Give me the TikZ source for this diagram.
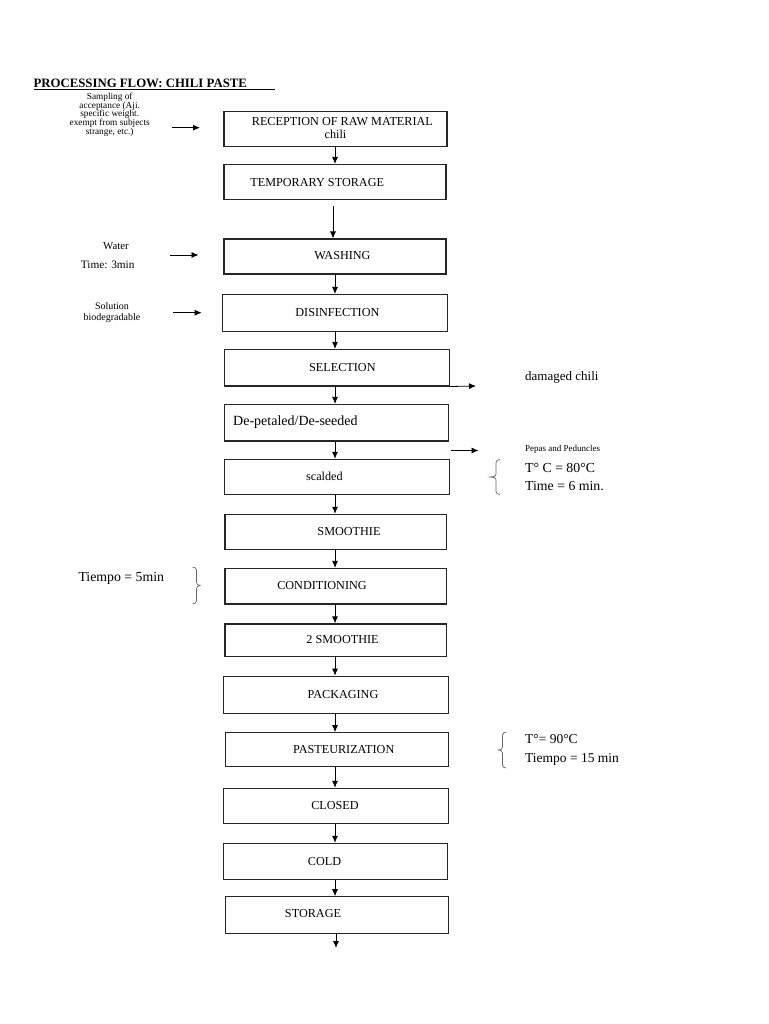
\documentclass[tikz,border=0pt]{standalone}
\usepackage{fontspec}
\setmainfont{Liberation Serif}
\usetikzlibrary{arrows.meta}
\begin{document}
\begin{tikzpicture}[x=1pt,y=-1pt,
  box/.style={draw=black!85, line width=1.1pt, inner sep=0pt},
  lbl/.style={inner sep=0pt, font=\fontsize{12.2}{14}\selectfont},
  arr/.style={line width=0.8pt, -{Latex[length=7pt,width=6pt]}},
  brc/.style={draw=black!60, line width=0.7pt},
  note/.style={inner sep=0pt, anchor=west, align=left}]
\useasboundingbox (0,0) rectangle (768,1024);
\fill[white] (0,0) rectangle (768,1024);

% title
\node[inner sep=0pt, anchor=base west, font=\bfseries\fontsize{12.8}{14}\selectfont] (title) at (33.3,88)
  {\underline{PROCESSING FLOW: CHILI PASTE\hspace*{28pt}}};

% boxes
\node[box, minimum width=223pt, minimum height=35pt] (b1) at (335.5,129) {};
\node[box, minimum width=222pt, minimum height=35pt] (b2) at (335,182) {};
\node[box, minimum width=222pt, minimum height=35pt] (b3) at (335,256.5) {};
\node[box, minimum width=224.5pt, minimum height=37pt] (b4) at (335,313) {};
\node[box, minimum width=224.5pt, minimum height=36.5pt] (b5) at (337,367.7) {};
\node[box, minimum width=224.3pt, minimum height=36.5pt] (b6) at (336.2,422.7) {};
\node[box, minimum width=224.5pt, minimum height=35pt] (b7) at (337,476.8) {};
\node[box, minimum width=221.7pt, minimum height=35pt] (b8) at (335.8,531.8) {};
\node[box, minimum width=221.7pt, minimum height=35.5pt] (b9) at (335.8,586.2) {};
\node[box, minimum width=221.7pt, minimum height=32.7pt] (b10) at (335.8,640.3) {};
\node[box, minimum width=225pt, minimum height=37pt] (b11) at (335.8,694.7) {};
\node[box, minimum width=223.3pt, minimum height=34pt] (b12) at (336.7,749.7) {};
\node[box, minimum width=225pt, minimum height=35pt] (b13) at (335.8,805.8) {};
\node[box, minimum width=224pt, minimum height=36pt] (b14) at (335.3,861.3) {};
\node[box, minimum width=223.3pt, minimum height=36.5pt] (b15) at (336.7,915) {};

% box texts
\node[lbl] (t1a) at (342.4,122) {RECEPTION OF RAW MATERIAL};
\node[lbl] (t1b) at (335.5,134) {chili};
\node[lbl] (t2) at (317.2,182.5) {TEMPORARY STORAGE};
\node[lbl] (t3) at (342.4,255.5) {WASHING};
\node[lbl] (t4) at (337.4,312.5) {DISINFECTION};
\node[lbl] (t5) at (342.4,367.5) {SELECTION};
\node[lbl, anchor=west, font=\fontsize{14}{16}\selectfont] (t6) at (233,422) {De-petaled/De-seeded};
\node[lbl] (t7) at (324.4,476) {scalded};
\node[lbl] (t8) at (349,532) {SMOOTHIE};
\node[lbl] (t9) at (322,586) {CONDITIONING};
\node[lbl] (t10) at (342.5,640) {2 SMOOTHIE};
\node[lbl] (t11) at (343,694.7) {PACKAGING};
\node[lbl] (t12) at (343.7,749.5) {PASTEURIZATION};
\node[lbl] (t13) at (335,805.5) {CLOSED};
\node[lbl] (t14) at (324.5,861.2) {COLD};
\node[lbl] (t15) at (313,913.8) {STORAGE};

% vertical arrows
\coordinate (ax) at (335,0);
\coordinate (ax2) at (333,0);
\draw[arr] (b1.south -| ax) -- (b2.north -| ax);
\draw[arr] ([yshift=-6pt]b2.south -| ax2) -- (b3.north -| ax2);
\draw[arr] (b3.south -| ax) -- (b4.north -| ax);
\draw[arr] (b4.south -| ax) -- (b5.north -| ax);
\draw[arr] (b5.south -| ax) -- (b6.north -| ax);
\draw[arr] (b6.south -| ax) -- (b7.north -| ax);
\draw[arr] (b7.south -| ax) -- (b8.north -| ax);
\draw[arr] (b8.south -| ax) -- (b9.north -| ax);
\draw[arr] (b9.south -| ax) -- (b10.north -| ax);
\draw[arr] (b10.south -| ax) -- (b11.north -| ax);
\draw[arr] (b11.south -| ax) -- (b12.north -| ax);
\draw[arr] (b12.south -| ax) -- (b13.north -| ax);
\draw[arr] (b13.south -| ax) -- (b14.north -| ax);
\draw[arr] (b14.south -| ax) -- (b15.north -| ax);
\coordinate (endpt) at (336,948);
\draw[arr] (b15.south -| endpt) -- (endpt);

% left inputs
\node[inner sep=0pt, align=center, font=\fontsize{9.3}{8.7}\selectfont] (samp) at (109.7,114.5)
  {Sampling of\\acceptance (Aji.\\specific weight.\\exempt from subjects\\strange, etc.)};
\coordinate (s1a) at (171.7,127.7);
\coordinate (s1b) at (200,127.7);
\draw[arr] (s1a) -- (s1b);

\node[inner sep=0pt, font=\fontsize{10.8}{12}\selectfont] (water) at (116,246.5) {Water};
\node[inner sep=0pt, anchor=west, font=\fontsize{11.3}{12}\selectfont] (time3) at (80.7,265) {Time: 3min};
\coordinate (s2a) at (170,255);
\coordinate (s2b) at (198.5,255);
\draw[arr] (s2a) -- (s2b);

\node[inner sep=0pt, align=center, font=\fontsize{10}{10.5}\selectfont] (sol) at (112,312.5)
  {Solution\\biodegradable};
\coordinate (s3a) at (173.3,312.7);
\coordinate (s3b) at (201.7,312.7);
\draw[arr] (s3a) -- (s3b);

% right outputs
\coordinate (o1) at (476,386);
\draw[arr] (b5.south east) -- (o1);
\node[note, font=\fontsize{13}{15}\selectfont] (dmg) at (525,377) {damaged chili};

\coordinate (o2a) at (450.7,450.5);
\coordinate (o2b) at (478.5,450.5);
\draw[arr] (o2a) -- (o2b);
\node[note, font=\fontsize{9}{10}\selectfont] (pepas) at (525,449) {Pepas and Peduncles};

\node[note, font=\fontsize{13.8}{17.4}\selectfont] (scald) at (525,477)
  {T° C = 80°C\\Time = 6 min.};
\draw[brc] (500,459.5) to[out=180,in=90] (496,462.5) -- (496,474) to[out=270,in=0] (490,477)
  to[out=0,in=90] (496,480) -- (496,491.5) to[out=270,in=180] (500,494.5);

\node[note, font=\fontsize{13.8}{16}\selectfont] (t5min) at (78.3,578.3) {Tiempo = 5min};
\draw[brc] (192.5,567) to[out=0,in=90] (196.5,570) -- (196.5,582) to[out=270,in=180] (200,585.5)
  to[out=180,in=90] (196.5,589) -- (196.5,601) to[out=270,in=0] (192.5,604);

\node[note, font=\fontsize{13.5}{18.3}\selectfont] (past) at (525,750)
  {T°= 90°C\\Tiempo = 15 min};
\draw[brc] (506,732) to[out=180,in=90] (502.5,735) -- (502.5,747) to[out=270,in=0] (498.5,750)
  to[out=0,in=90] (502.5,753) -- (502.5,765) to[out=270,in=180] (506,768);
\end{tikzpicture}
\end{document}
